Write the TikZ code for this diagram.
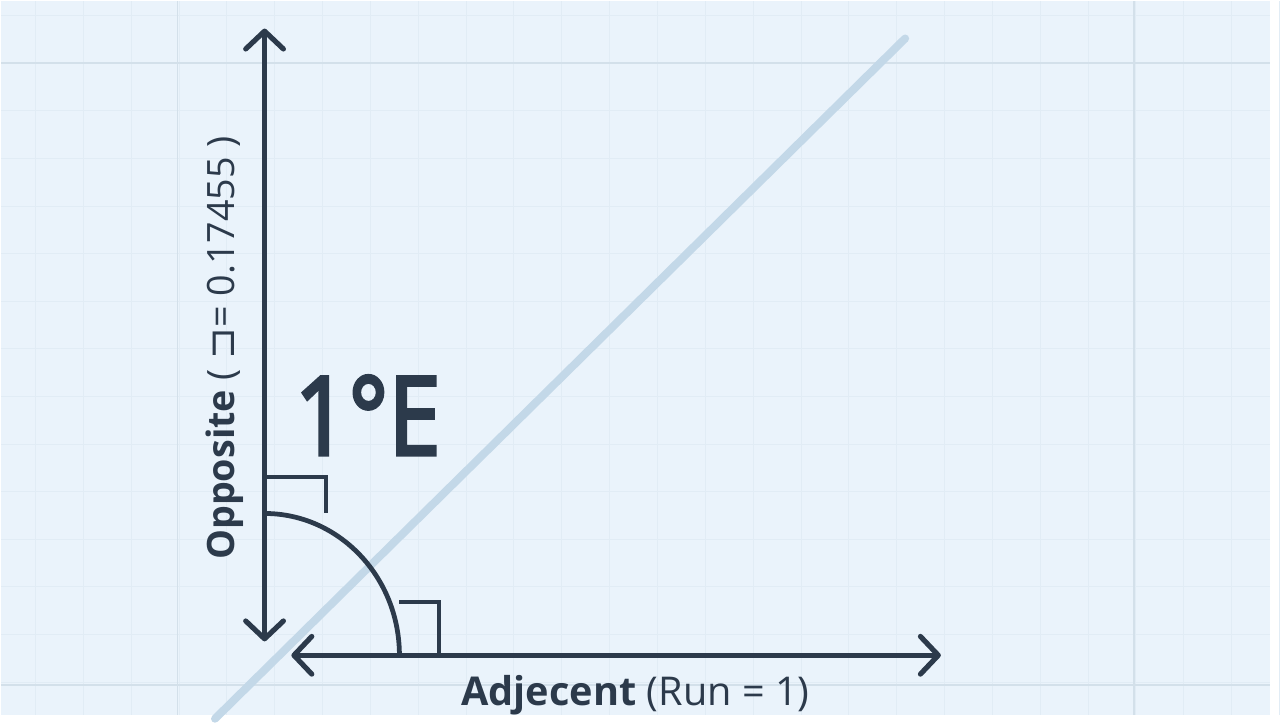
\documentclass[tikz,border=0pt]{standalone}
\usepackage{fontspec}
\setmainfont{Open Sans}
\newfontfamily\symfont{DejaVu Sans}
\newfontfamily\anglefont[FakeBold=3.5]{Open Sans}
\usetikzlibrary{arrows.meta}

\definecolor{bgblue}{HTML}{EAF3FB}
\definecolor{gridfaint}{HTML}{E1ECF5}
\definecolor{gridstrong}{HTML}{D3E0EA}
\definecolor{ink}{HTML}{2C3A4B}
\definecolor{rayblue}{HTML}{C3D8E8}

\tikzset{
  side/.style={ink, line width=2.6pt, line cap=round,
    {Straight Barb[round,length=9pt,width=19pt]}-{Straight Barb[round,length=9pt,width=19pt]}},
  rightbox/.style={ink, line width=2.2pt},
  label text/.style={ink, inner sep=0pt, font=\fontsize{19}{22}\selectfont}
}

\begin{document}
\begin{tikzpicture}[x=0.5pt,y=-0.5pt]
    \fill[bgblue] (0,0) rectangle (1280,720);
    %% grid
    \foreach \gx in {0,...,26}
      \draw[gridfaint, line width=0.5pt] ({35+48.25*\gx},0) to ({35+48.25*\gx},720);
    \foreach \gy in {0,...,14}
      \draw[gridfaint, line width=0.5pt] (0,{15+48*\gy}) to (1280,{15+48*\gy});
    \draw[gridstrong, line width=0.8pt](178,0) to (178,720);
    \draw[gridstrong, line width=0.8pt](1143,0) to (1143,720);
    \draw[gridstrong, line width=0.8pt](0,63) to (1280,63);
    \draw[gridstrong, line width=0.8pt](0,690) to (1280,690);

    %% corner points
    \coordinate (corner) at (266,660);
    \coordinate (rise) at (266,28);
    \coordinate (riseend) at (266,646);
    \coordinate (runstart) at (293,660);
    \coordinate (runend) at (948,660);
    \coordinate (raylow) at (216,724);
    \coordinate (rayhigh) at (912,38);

    %% ray
    \draw[rayblue, line width=4pt, line cap=round](raylow) to (rayhigh);

    %% legs
    \draw[side](rise) to (riseend);
    \draw[side](runstart) to (runend);

    %% arc and right-angle boxes
    \draw[ink, line width=2.4pt](266,517) arc[start angle=-90, end angle=0, x radius=136, y radius=143];
    \draw[rightbox](266,480) to (328,480) to (328,517);
    \draw[rightbox](402,606) to (442,606) to (442,660);

    %% labels
    \node[label text, rotate=90] (opp) at (226,350)
      {\textbf{Opposite} ( {\symfont ⊐}= 0.17455 )};
    \node[label text, font=\fontsize{20}{24}\selectfont] (adj) at (640,700) {\textbf{Adjecent} (Run = 1)};
    \node[ink, inner sep=0pt, font=\anglefont\fontsize{55}{60}\selectfont, xscale=0.86, transform shape] (ang) at (370,418) {1°E};
\end{tikzpicture}
\end{document}
